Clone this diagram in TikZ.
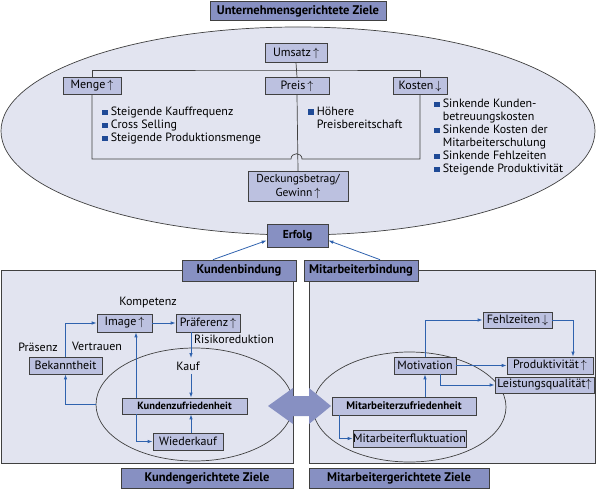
\documentclass[tikz,border=0pt]{standalone}
\usepackage{fontspec}
\setmainfont{PT Sans}
\usetikzlibrary{arrows.meta,shapes.geometric}
\definecolor{panelfill}{HTML}{E2E4F0}
\definecolor{boxfill}{HTML}{BCC1E0}
\definecolor{headfill}{HTML}{8790C2}
\definecolor{rim}{HTML}{404040}
\definecolor{flowblue}{HTML}{2F62AE}
\definecolor{dot}{HTML}{1F4A96}
\newcommand{\blt}{\textcolor{dot}{\rule[0.3pt]{5.5pt}{5.5pt}}\hspace{3pt}}
\newcommand{\incr}{\,$\uparrow$}
\newcommand{\decr}{\,$\downarrow$}
\begin{document}
\begin{tikzpicture}[x=1pt, y=-1pt, line width=0.7pt, font=\fontsize{12}{13}\selectfont,
    box/.style={draw=rim, fill=boxfill, inner sep=0pt, minimum height=17pt},
    head/.style={draw=rim, fill=headfill, inner sep=0pt, minimum height=20pt, font=\fontsize{12.5}{14}\selectfont\bfseries},
    oval/.style={ellipse, draw=rim, inner sep=0pt},
    link/.style={draw=flowblue, line width=0.8pt, -{Latex[length=5pt,width=3.5pt]}}]
\useasboundingbox (0,0) rectangle (596,489);
\node[oval, fill=panelfill, minimum width=594pt, minimum height=208pt] (uell) at (298,131) {};
\node[head, minimum width=176pt, minimum height=19pt] (uziele) at (298,11) {Unternehmensgerichtete Ziele};
\node[box, minimum width=62pt, minimum height=19pt] (umsatz) at (296,53) {Umsatz\incr};
\node[box, minimum width=58pt] (menge) at (92,86) {Menge\incr};
\node[box, minimum width=64pt] (preis) at (297,86) {Preis\incr};
\node[box, minimum width=54pt] (kosten) at (420,86) {Kosten\decr};
\node[box, minimum width=100pt, minimum height=30pt, align=center, font=\fontsize{11.5}{14}\selectfont] (deckung) at (298,186.5) {Deckungsbetrag/\\Gewinn\incr};
\coordinate (top) at (296,70);
\coordinate (hopl) at (291,159);
\coordinate (hopr) at (302,159);
\draw[rim] (menge.north) |- (top) -| (kosten.north);
\draw[rim] (umsatz.south) -- (preis.north);
\draw[rim] (menge.south) |- (hopl) .. controls +(0,-7) and +(0,-7) .. (hopr) -| (kosten.south);
\draw[rim] (preis.south) -- (deckung.north);
\node[anchor=north west, inner sep=0pt, align=left] (mengelist) at (102,106.5) {\blt Steigende Kauffrequenz\\\blt Cross Selling\\\blt Steigende Produktionsmenge};
\node[anchor=north west, inner sep=0pt, align=left] (preislist) at (308,106.5) {\blt Höhere\\\hspace{8.5pt}Preisbereitschaft};
\node[anchor=north west, inner sep=0pt, align=left] (kostenlist) at (434,98.5) {\blt Sinkende Kunden-\\\hspace{8.5pt}betreuungskosten\\\blt Sinkende Kosten der\\\hspace{8.5pt}Mitarbeiterschulung\\\blt Sinkende Fehlzeiten\\\blt Steigende Produktivität};
\draw[rim, fill=panelfill] (1,270) rectangle (293,463);
\draw[rim, fill=panelfill] (309,270) rectangle (595,463);
\node[head, minimum width=61pt, minimum height=23pt, font=\fontsize{11.5}{13}\selectfont\bfseries] (erfolg) at (297.5,235.5) {Erfolg};
\node[head, minimum width=114pt, minimum height=21pt] (kbind) at (239,270.5) {Kundenbindung};
\node[head, minimum width=114pt, minimum height=21pt] (mbind) at (361,270.5) {Mitarbeiterbindung};
\node[head, minimum width=172pt] (kziele) at (207,478) {Kundengerichtete Ziele};
\node[head, minimum width=180pt] (mziele) at (399,478) {Mitarbeitergerichtete Ziele};
\draw[link] ([xshift=-26pt]kbind.north) -- ([yshift=-5pt]erfolg.west);
\draw[link] ([xshift=19pt]mbind.north) -- ([yshift=-5pt]erfolg.east);
\node[oval, minimum width=197pt, minimum height=113pt] (kell) at (194.5,404.5) {};
\node[oval, minimum width=193pt, minimum height=110pt] (mell) at (409.5,407) {};
\fill[headfill] (268,406) -- (293,388) -- (293,396) -- (309,396) -- (309,388) -- (331,406)
    -- (309,424) -- (309,416) -- (293,416) -- (293,424) -- cycle;
\node (kompetenz) at (148,302) {Kompetenz};
\node[box, minimum width=55pt, minimum height=18pt] (image) at (124.5,323) {Image\incr};
\node[box, minimum width=64pt, minimum height=18pt] (praef) at (208,323) {Präferenz\incr};
\node (risiko) at (234,339) {Risikoreduktion};
\node (praesenz) at (38,347) {Präsenz};
\node (vertrauen) at (97,346) {Vertrauen};
\node[box, minimum width=73pt] (bekannt) at (65.5,365.5) {Bekanntheit};
\node (kauf) at (188,366) {Kauf};
\node[box, minimum width=125pt, minimum height=16pt, font=\fontsize{10.5}{12}\selectfont\bfseries] (kzuf) at (184.5,406) {Kundenzufriedenheit};
\node[box, minimum width=70pt] (wieder) at (188,441.5) {Wiederkauf};
\coordinate (kx) at (191,0);
\coordinate (kl) at (136,0);
\draw[link] (bekannt.north) |- (image.west);
\draw[link] (image.east) -- (praef.west);
\draw[link] (kx |- praef.south) -- (kx |- kauf.north);
\draw[link] (kx |- kauf.south) -- (kx |- kzuf.north);
\draw[link] (kx |- wieder.north) -- (kx |- kzuf.south);
\draw[link] (kl |- kzuf.north) -- (kl |- image.south);
\draw[link] (kl |- kzuf.south) |- (wieder.west);
\draw[link] (kell.west) -| (bekannt.south);
\node[box, minimum width=69pt, minimum height=16pt] (fehl) at (517.5,320) {Fehlzeiten\decr};
\node[box, minimum width=62pt] (motiv) at (425,365.5) {Motivation};
\node[box, minimum width=86pt] (prod) at (550,365.5) {Produktivität\incr};
\node[box, minimum width=99pt, minimum height=16pt] (leist) at (544.5,385) {Leistungsqualität$\uparrow$};
\node[box, minimum width=144pt, minimum height=18pt, font=\fontsize{11}{12}\selectfont\bfseries] (mzuf) at (404,406) {Mitarbeiterzufriedenheit};
\node[box, minimum width=113pt] (mfluk) at (409.5,438.5) {Mitarbeiterfluktuation};
\coordinate (mr) at (573,0);
\coordinate (mq) at (440,0);
\coordinate (mf) at (339,0);
\draw[link] (motiv.north) |- (fehl.west);
\draw[link] (fehl.east) -| (mr |- prod.north);
\draw[link] (motiv.east) -- (prod.west);
\draw[link] (mq |- motiv.south) |- (leist.west);
\draw[link] (motiv.south |- mzuf.north) -- (motiv.south);
\draw[link] (mf |- mzuf.south) |- (mfluk.west);
\end{tikzpicture}
\end{document}
